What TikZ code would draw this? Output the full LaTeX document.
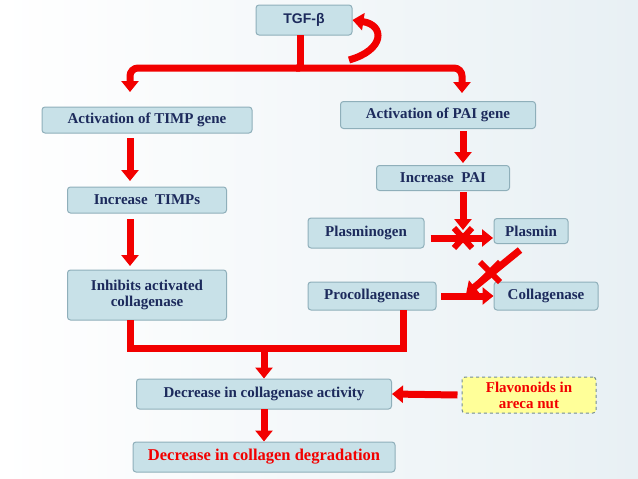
\documentclass[tikz,border=0pt]{standalone}
\usepackage{fontspec}
\setmainfont{Liberation Serif}
\newfontfamily\sansf{Liberation Sans}
\usetikzlibrary{arrows.meta}
\definecolor{boxfill}{HTML}{C8E1E8}
\definecolor{boxdraw}{HTML}{8FAFBA}
\definecolor{txt}{HTML}{1C2A5C}
\definecolor{arr}{HTML}{F20000}
\begin{document}
\begin{tikzpicture}[x=1pt,y=-1pt,
 box/.style={draw=boxdraw,line width=1pt,fill=boxfill,rounded corners=3pt,text=txt,font=\bfseries\fontsize{15}{16}\selectfont,align=center,inner sep=0pt},
 ar/.style={draw=arr,line width=7pt,-{Triangle[width=17pt,length=11pt]}},
 ln/.style={draw=arr,line width=7pt},
 xm/.style={draw=arr,line width=6pt}]
\fill[left color=white,right color={rgb,255:red,232;green,240;blue,244}] (0,0) rectangle (638,479);
\useasboundingbox (0,0) rectangle (638,479);
\node[box,minimum width=96,minimum height=30,font=\sansf\bfseries\fontsize{14}{15}\selectfont] (tgf) at (304,20) {TGF-β};
\node[box,minimum width=210,minimum height=26] (atimp) at (147,120) {Activation of TIMP gene};
\node[box,minimum width=195,minimum height=27] (apai) at (438,115) {Activation of PAI gene};
\node[box,minimum width=159,minimum height=26] (itimp) at (147,200) {Increase~~TIMPs};
\node[box,minimum width=133,minimum height=25] (ipai) at (443,178) {Increase~~PAI};
\node[box,minimum width=116,minimum height=30] (plg) at (366,233) {Plasminogen};
\node[box,minimum width=74,minimum height=25] (pls) at (531,231) {Plasmin};
\node[box,minimum width=159,minimum height=50] (inh) at (147,295) {Inhibits activated\\collagenase};
\node[box,minimum width=128,minimum height=28] (pro) at (372,296) {Procollagenase};
\node[box,minimum width=104,minimum height=28] (col) at (546,296) {Collagenase};
\node[box,minimum width=255,minimum height=30] (dca) at (264,394) {Decrease in collagenase activity};
\node[box,draw=boxdraw!80!black,dashed,fill={rgb,255:red,255;green,255;blue,153},text=arr,minimum width=134,minimum height=36] (fla) at (529,395) {Flavonoids in\\areca nut};
\node[box,minimum width=262,minimum height=30,text=arr,font=\bfseries\fontsize{16.5}{17}\selectfont] (dcd) at (264,457) {Decrease in collagen degradation};
% TGF tree
\draw[ln] (300,35) -- (300,68);
\draw[ar,rounded corners=8pt] (300,68) -- (130,68) -- (130,92);
\draw[ar,rounded corners=8pt] (296,68) -- (462,68) -- (462,93);
\draw[ar] (349,60) .. controls (385,50) and (385,25) .. (tgf.east);
% left chain
\draw[ar] (130,138) -- (130,181);
\draw[ar] (130,219) -- (130,266);
% right chain
\draw[ar] (463,131) -- (463,163);
\draw[ar] (463,192) -- (463,230);
\draw[ar] (plg.east)++(6,5) -- (493,238);
\draw[xm] (454,228) -- (472,248) (472,228) -- (454,248);
\draw[ar] (520,250) -- (466,294);
\draw[xm] (480,262) -- (500,282) (500,262) -- (480,282);
\draw[ar] (441,296) -- (col.west);
% merge
\draw[ln] (130,320) -- (130,348) -- (403,348) -- (403,310);
\draw[ar] (264,348) -- (dca.north);
\draw[ar] (fla.west)++(-4,0) -- (dca.east);
\draw[ar] (264,409) -- (dcd.north);
\end{tikzpicture}
\end{document}
